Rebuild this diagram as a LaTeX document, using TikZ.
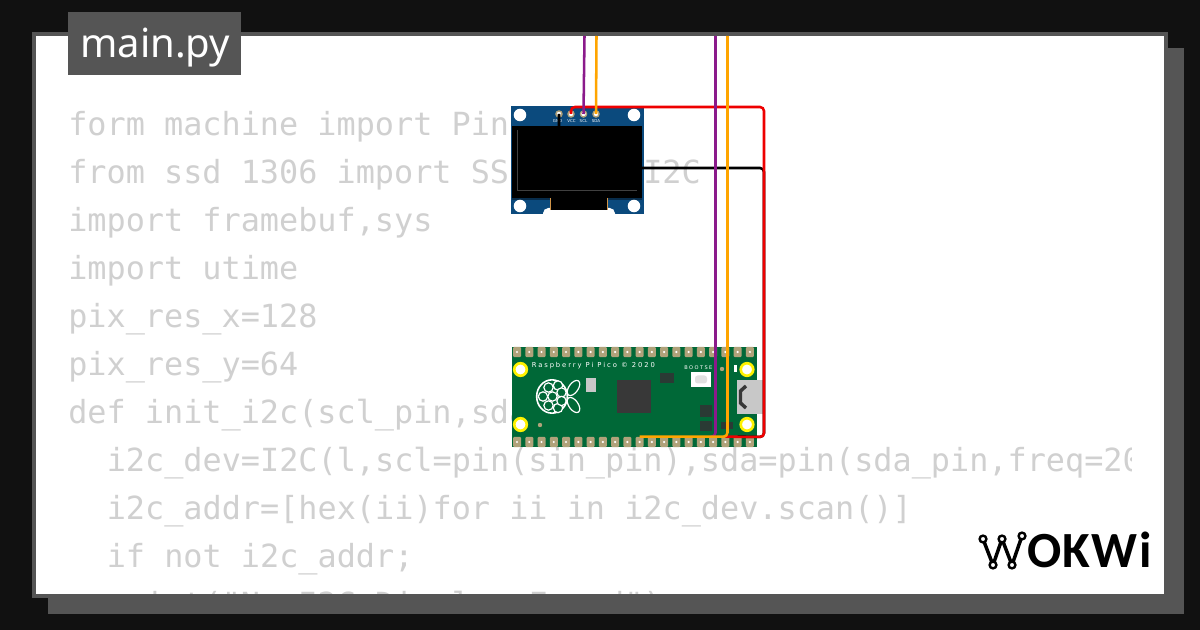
\documentclass[tikz,border=0pt]{standalone}
\usepackage{fontspec}
\usepackage{xcolor}
\usetikzlibrary{positioning, shapes}
\setmonofont{DejaVu Sans Mono}
\newfontfamily\tabfont{Noto Sans}
\newfontfamily\logofont[LetterSpace=3]{Carlito}
\newfontfamily\boardfont[LetterSpace=28]{DejaVu Sans}
\newfontfamily\pinfont{DejaVu Sans}
\definecolor{pagedark}{HTML}{111111}
\definecolor{framegrey}{HTML}{555555}
\definecolor{codegrey}{HTML}{D0D0D0}
\definecolor{oledblue}{HTML}{0B4A7D}
\definecolor{picogreen}{HTML}{006837}
\definecolor{padtan}{HTML}{B0A27A}
\definecolor{chipgrey}{HTML}{383838}
\definecolor{partgrey}{HTML}{2A3A34}
\definecolor{usbgrey}{HTML}{C8C8C8}
\definecolor{wirepurple}{HTML}{8B1A8B}
\definecolor{wireorange}{HTML}{FFA500}
\definecolor{wirered}{HTML}{EE0000}
\tikzset{
    codeline/.style={anchor=base west, inner sep=0pt, text=codegrey, font=\ttfamily\fontsize{23.88}{24}\selectfont},
    pad/.style={rectangle, rounded corners=0.8pt, fill=padtan, minimum width=6pt, minimum height=7.6pt, inner sep=0pt},
    paddot/.style={circle, fill=white, inner sep=0pt, minimum size=1.8pt},
    hole/.style={circle, fill=white, inner sep=0pt, minimum size=9.4pt},
    ring/.style={circle, draw=yellow, line width=2pt, fill=white, inner sep=0pt, minimum size=9.4pt},
    oledpin/.style={circle, draw=padtan, line width=1pt, fill=white, inner sep=0pt, minimum size=4.6pt},
    pinlabel/.style={inner sep=0pt, text=white, font=\pinfont\fontsize{3}{3.5}\selectfont},
    wire/.style={line width=1.9pt, rounded corners=3pt},
    berry/.style={circle, draw=white, line width=0.9pt, fill=picogreen, inner sep=0pt, minimum size=7pt},
    leaf/.style={ellipse, draw=white, line width=0.9pt, fill=picogreen, inner sep=0pt, minimum width=13pt, minimum height=7pt}
}
\begin{document}
\begin{tikzpicture}[x=0.75pt, y=-0.75pt]
    \useasboundingbox (0, 0) rectangle (1200, 630);
    \fill[pagedark] (0, 0) rectangle (1200, 630);
    \fill[framegrey] (48, 48) rectangle (1184, 614);
    \fill[white, draw=framegrey, line width=3pt] (34, 34) rectangle (1166, 596);

    \begin{scope}
        \clip (36, 36) rectangle (1131, 594);
        \node[codeline] (line1) at (68, 136) {form machine import Pin,I2C};
        \node[codeline] (line2) at (68, 184) {from ssd 1306 import SSD\_1306\_I2C};
        \node[codeline] (line3) at (68, 232) {import framebuf,sys};
        \node[codeline] (line4) at (68, 280) {import utime};
        \node[codeline] (line5) at (68, 328) {pix\_res\_x=128};
        \node[codeline] (line6) at (68, 376) {pix\_res\_y=64};
        \node[codeline] (line7) at (68, 424) {def init\_i2c(scl\_pin,sda\_pin):};
        \node[codeline] (line8) at (106.5, 472) {i2c\_dev=I2C(l,scl=pin(sin\_pin),sda=pin(sda\_pin,freq=20};
        \node[codeline] (line9) at (106.5, 520) {i2c\_addr=[hex(ii)for ii in i2c\_dev.scan()]};
        \node[codeline] (line10) at (106.5, 568) {if not i2c\_addr;};
        \node[codeline] (line11) at (106.5, 616) {print("No I2C Display Found")};
    \end{scope}

    \fill[framegrey] (68, 12) rectangle (241, 75);
    \node[anchor=base west, inner sep=0pt, text=white, font=\tabfont\fontsize{30}{30}\selectfont] (tabname) at (80, 58) {main.py};

    \fill[oledblue] (511, 106) rectangle (644, 214);
    \fill[white, rounded corners=4pt] (543, 220) rectangle (615, 208);
    \fill[oledblue!60!black] (512, 198) rectangle (642, 200);
    \fill[black] (512, 126) rectangle (642, 198);
    \draw[black!75!white, line width=0.3pt] (517, 130) -- (517, 190) -- (637, 190);
    \fill[black] (550, 198) rectangle (607, 210);
    \draw[padtan!60!orange, line width=0.6pt] (550, 198) -- (550, 210);
    \draw[padtan!60!orange, line width=0.6pt] (607, 198) -- (607, 210);
    \fill[white] (511, 214) rectangle (644, 216);
    \node[hole] (oledhole1) at (520, 115) {};
    \node[hole] (oledhole2) at (634, 115) {};
    \node[hole] (oledhole3) at (520, 206) {};
    \node[hole] (oledhole4) at (634, 206) {};
    \node[oledpin] (gnd) at (559, 114) {};
    \node[oledpin] (vcc) at (571, 114) {};
    \node[oledpin] (scl) at (583.5, 114) {};
    \node[oledpin] (sda) at (596, 114) {};
    \node[pinlabel] (gndlabel) at (557.5, 121.5) {GND};
    \node[pinlabel] (vcclabel) at (571.5, 121.5) {VCC};
    \node[pinlabel] (scllabel) at (583.5, 121.5) {SCL};
    \node[pinlabel] (sdalabel) at (596, 121.5) {SDA};

    \fill[picogreen] (511.5, 347) rectangle (756.5, 447);
    \foreach \i in {1,...,20} {
        \node[pad] (top\i) at ({517+(\i-1)*12.26}, 352) {};
        \node[pad] (bot\i) at ({517+(\i-1)*12.26}, 442) {};
        \node[paddot] at (top\i) {};
        \node[paddot] at (bot\i) {};
    }
    \node[ring] (mount1) at (520.5, 369.5) {};
    \node[ring] (mount2) at (520.5, 424.5) {};
    \node[ring] (mount3) at (747, 369.5) {};
    \node[ring] (mount4) at (747, 424.5) {};
    \node[anchor=west, inner sep=0pt, text=white, font=\boardfont\fontsize{5.1}{6}\selectfont] (boardname) at (531.5, 366) {Raspberry Pi Pico © 2020};
    \node[inner sep=0pt, text=white, font=\boardfont\fontsize{3.8}{4}\selectfont] (bootsel) at (700.5, 367.5) {BOOTSEL};
    \fill[usbgrey] (586, 378) rectangle (596, 392);
    \fill[chipgrey] (617, 380) rectangle (651, 413);
    \fill[partgrey] (660, 373) rectangle (674, 383);
    \fill[partgrey] (700, 405) rectangle (712, 417);
    \fill[partgrey] (700, 421) rectangle (712, 431);
    \fill[partgrey] (721, 422) rectangle (733, 429);
    \fill[white] (691, 372) rectangle (711, 387);
    \fill[black!12, rounded corners=2pt] (695, 375.5) rectangle (707, 383.5);
    \fill[padtan] (722, 369) circle[radius=2.2];
    \fill[padtan] (540, 425) circle[radius=2.2];
    \fill[white] (733.5, 365) rectangle (737, 372);
    \fill[usbgrey] (737, 380) rectangle (763, 414);
    \draw[chipgrey, line width=2.6pt] (746, 386) -- (740.5, 391) -- (740.5, 403) -- (746, 408);

    \node[leaf, rotate=55] (leaf1) at (573.5, 388) {};
    \node[leaf, rotate=-55] (leaf2) at (573.5, 405) {};
    \node[ellipse, draw=white, line width=1.2pt, fill=picogreen, inner sep=0pt, minimum width=23pt, minimum height=25pt] (berrybody) at (552, 396.5) {};
    \node[berry] (berry1) at (543, 396.5) {};
    \node[berry] (berry2) at (548.5, 387.5) {};
    \node[berry] (berry3) at (558, 385.5) {};
    \node[berry] (berry4) at (552.5, 396.5) {};
    \node[berry] (berry5) at (561.5, 392.5) {};
    \node[berry] (berry6) at (548.5, 405.5) {};
    \node[berry] (berry7) at (558, 408) {};
    \node[berry] (berry8) at (561.5, 401) {};

    \coordinate (purpletop) at (584.5, 36);
    \coordinate (orangetop) at (596.5, 36);
    \coordinate (purplefree) at (715.5, 36);
    \coordinate (orangefree) at (727.5, 36);
    \coordinate (redcorner) at (764, 107);
    \coordinate (redlow) at (764, 437);
    \coordinate (blackcorner) at (764, 168);
    \coordinate (blacklow) at (764, 437);

    \draw[wire, black] (gnd.center) |- (blackcorner) -- (blacklow) -- (bot19.north);
    \draw[wire, wirered] (vcc.center) |- (redcorner) -- (redlow) -- (bot18.north);
    \draw[wire, wirepurple] (purpletop) -- (scl.center);
    \draw[wire, wireorange] (orangetop) -- (sda.center);
    \draw[wire, wirepurple] (purplefree) |- (bot17.north);
    \draw[wire, wireorange] (orangefree) |- (bot11.north);

    \node[anchor=base west, inner sep=0pt, text=black, font=\logofont\bfseries\fontsize{38}{38}\selectfont] (logotext) at (1027, 567.5) {OKWi};
    \coordinate (logo1) at (983, 539);
    \coordinate (logo2) at (993, 565);
    \coordinate (logo3) at (1002, 539);
    \coordinate (logo4) at (1012, 565);
    \coordinate (logo5) at (1022, 536);
    \draw[black, line width=2.6pt, line join=round] (logo1) -- (logo2) -- (logo3) -- (logo4) -- (logo5);
    \foreach \p in {logo1, logo2, logo3, logo4, logo5} {
        \fill[white, draw=black, line width=1.8pt] (\p) circle[radius=3.4];
    }
\end{tikzpicture}
\end{document}
